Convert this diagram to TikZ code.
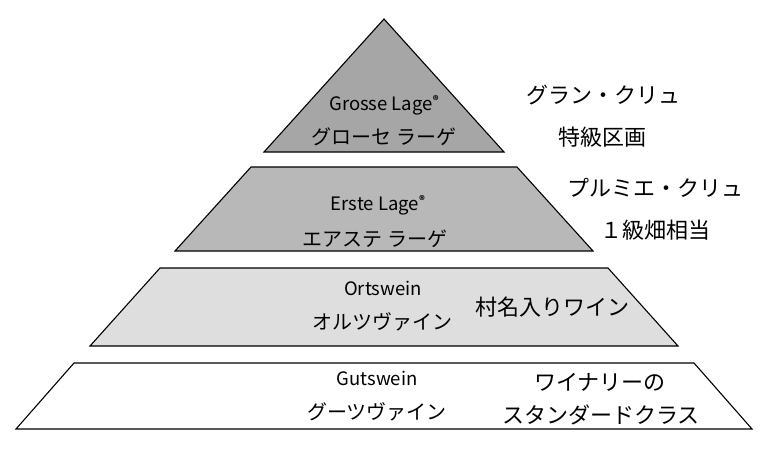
\documentclass[tikz,border=0pt]{standalone}
\usepackage{fontspec}
\setmainfont{Noto Sans CJK JP}
\newcommand{\regmark}{\raisebox{0.6ex}{\fontsize{11}{11}\selectfont\bfseries ®}}
\tikzset{
  layer/.style={draw=black,line width=1.1pt,line join=miter},
  latin/.style={inner sep=0pt,font=\fontsize{18.5}{18.5}\selectfont},
  kana/.style={inner sep=0pt,font=\fontsize{20}{20}\selectfont},
  side/.style={inner sep=0pt,font=\fontsize{22}{22}\selectfont}
}
\begin{document}
\begin{tikzpicture}[x=1pt,y=-1pt]
			\useasboundingbox (0,0) rectangle (768,453);
			\draw[layer,fill=black!35] (384,19)--(264,152)--(504,152)--cycle;
			\draw[layer,fill=black!28] (251,167)--(517,167)--(593,251)--(175,251)--cycle;
			\draw[layer,fill=black!13] (160,268)--(608,268)--(678,346)--(90,346)--cycle;
			\draw[layer,fill=white] (74,363)--(694,363)--(752,429)--(16,429)--cycle;
			\node[latin] (grosse) at (384,105) {Grosse Lage\regmark};
			\node[kana] (grossejp) at (384,137) {グローセ ラーゲ};
			\node[side] (grand) at (603,95) {グラン・クリュ};
			\node[side] (tokkyu) at (602,137) {特級区画};
			\node[latin] (erste) at (378,205) {Erste Lage\regmark};
			\node[kana] (erstejp) at (375,239) {エアステ ラーゲ};
			\node[side] (premier) at (655,188) {プルミエ・クリュ};
			\node[side] (ikkyu) at (655,230) {１級畑相当};
			\node[latin] (orts) at (383,288) {Ortswein};
			\node[kana] (ortsjp) at (382,322) {オルツヴァイン};
			\node[side] (sonmei) at (552,307) {村名入りワイン};
			\node[latin] (guts) at (377,378) {Gutswein};
			\node[kana] (gutsjp) at (377,412) {グーツヴァイン};
			\node[side] (winery) at (600,382) {ワイナリーの};
			\node[side] (standard) at (601,415) {スタンダードクラス};
\end{tikzpicture}
\end{document}
